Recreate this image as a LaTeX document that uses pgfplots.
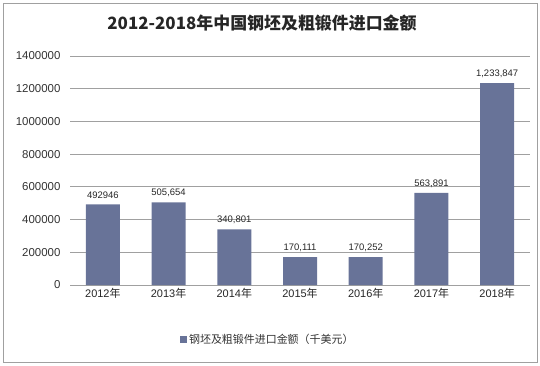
\documentclass[border=0pt]{standalone}
\usepackage{pgfplots}
\pgfplotsset{compat=1.18}
\usepackage{fontspec}
\setmainfont{Liberation Sans}
\newfontfamily\cjk{Noto Sans CJK SC}
\definecolor{barc}{RGB}{104,115,152}
\definecolor{gridc}{RGB}{160,160,160}
\begin{document}
\begin{tikzpicture}[x=1bp,y=1bp]
\path[use as bounding box] (0,0) rectangle (540,365);
\draw[gridc, line width=0.8bp] (3,3) rectangle (537,362);
\node[font=\cjk\bfseries\fontsize{17}{20}\selectfont, text=black!85] at (262,342) {2012-2018年中国钢坯及粗锻件进口金额};
\begin{axis}[
  at={(70bp,80bp)}, anchor=south west,
  scale only axis, width=460bp, height=229bp,
  ymin=0, ymax=1400000,
  ytick={0,200000,...,1400000},
  scaled y ticks=false,
  yticklabel style={/pgf/number format/fixed, /pgf/number format/1000 sep={}, font=\fontsize{11.5}{13}\selectfont, text=black!80, xshift=-6bp},
  /pgf/number format/assume math mode=true,
  xmin=-0.5, xmax=6.5,
  xtick={0,...,6},
  xticklabels={2012{\cjk 年},2013{\cjk 年},2014{\cjk 年},2015{\cjk 年},2016{\cjk 年},2017{\cjk 年},2018{\cjk 年}},
  xticklabel style={font=\fontsize{11}{12}\selectfont, text=black!85},
  major tick length=0pt,
  ymajorgrids, grid style={gridc, line width=0.8bp},
  axis x line*=bottom, axis y line*=left,
  x axis line style={gridc, line width=0.8bp, -},
  y axis line style={draw=none},
  ybar, bar width=34bp,
  nodes near coords,
  point meta=explicit symbolic,
  every node near coord/.append style={font=\fontsize{9.5}{11}\selectfont, text=black!85, yshift=2bp},
  legend style={at={(0.43,-0.24)}, anchor=center, draw=none, font=\cjk\fontsize{11}{12}\selectfont, text=black!80},
  legend image code/.code={\fill[barc] (0bp,-3.5bp) rectangle (7bp,3.5bp);},
  clip=false,
]
\addplot[fill=barc, draw=none] table[meta=lab] {
x y lab
0 492946 492946
1 505654 505,654
2 340801 340,801
3 170111 170,111
4 170252 170,252
5 563891 563,891
6 1233847 1,233,847
};
\addlegendentry{钢坯及粗锻件进口金额（千美元）}
\end{axis}
\end{tikzpicture}
\end{document}
